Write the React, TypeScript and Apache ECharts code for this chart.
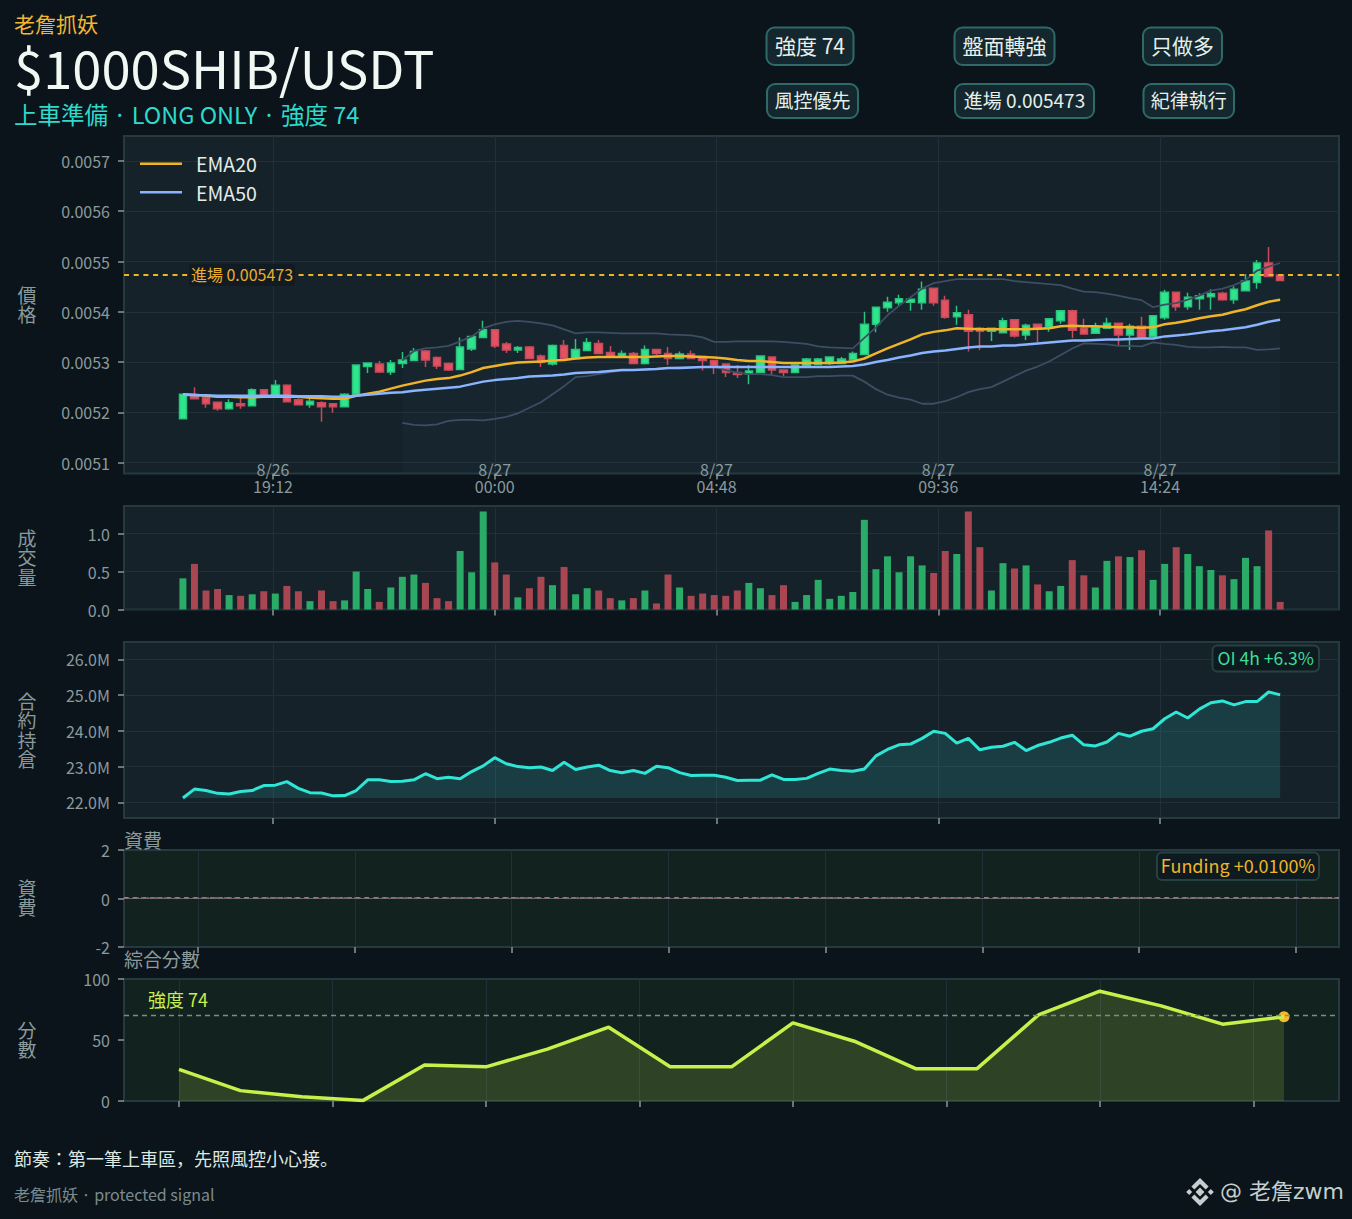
import React, { useEffect, useRef } from "react";
import * as echarts from "echarts";

const FONT = '"Noto Sans CJK JP", "Noto Sans", sans-serif';
const BG = "#0a141a";
const PANEL = "#15222a";
const PANEL2 = "#11221f";
const FRAME = "#25393f";
const GRID = "#222f38";
const TICK = "#8a9699";
const MUTED = "#8a9a9c";

const PRICE_UNIT = 1e-6;
const opens = [5187,5233,5229,5220,5207,5217,5213,5245,5233,5254, 5225,5215,5219,5217,5211,5236,5291,5296,5280,5297, 5303,5322,5309,5297,5285,5326,5349,5364,5336,5324, 5330,5312,5296,5333,5307,5323,5337,5319,5311,5317, 5297,5325,5317,5307,5316,5311,5303,5296,5279,5276, 5279,5310,5284,5279,5292,5295,5297,5297,5304,5315, 5375,5408,5418,5419,5418,5447,5423,5390,5394,5367, 5361,5358,5384,5354,5375,5369,5382,5402,5367,5357, 5367,5377,5354,5371,5351,5388,5439,5410,5426,5430, 5437,5424,5442,5458,5497,5473];
const closes = [5236,5227,5217,5207,5219,5213,5245,5233,5254,5221, 5215,5222,5211,5211,5236,5294,5298,5280,5298,5304, 5321,5304,5292,5284,5330,5351,5364,5332,5324,5329, 5307,5299,5333,5307,5325,5339,5317,5311,5317,5297, 5325,5317,5307,5316,5307,5303,5292,5279,5275,5282, 5312,5284,5279,5294,5306,5306,5310,5306,5317,5375, 5409,5419,5426,5425,5445,5418,5389,5398,5361,5361, 5367,5382,5352,5373,5365,5386,5402,5363,5356,5369, 5377,5354,5371,5349,5392,5439,5410,5429,5432,5436, 5424,5445,5461,5497,5470,5462];
const lows = [5187,5227,5209,5203,5205,5207,5213,5233,5233,5221, 5215,5209,5181,5199,5211,5236,5278,5278,5274,5288, 5303,5290,5286,5282,5285,5322,5349,5328,5318,5318, 5307,5290,5293,5307,5307,5323,5317,5311,5311,5297, 5295,5314,5294,5307,5307,5283,5276,5270,5268,5256, 5279,5274,5272,5279,5292,5295,5294,5297,5304,5315, 5359,5400,5412,5402,5404,5412,5386,5374,5321,5324, 5342,5358,5349,5344,5340,5360,5376,5348,5354,5357, 5367,5333,5324,5349,5351,5384,5402,5404,5404,5404, 5422,5416,5442,5446,5470,5462];
const highs = [5236,5250,5229,5220,5226,5228,5248,5246,5264,5256, 5228,5227,5222,5217,5238,5294,5298,5302,5304,5320, 5328,5324,5311,5299,5349,5351,5382,5364,5340,5332, 5332,5315,5335,5344,5346,5348,5344,5332,5323,5320, 5333,5325,5330,5321,5323,5311,5303,5296,5294,5294, 5312,5310,5284,5294,5308,5308,5310,5310,5321,5400, 5409,5430,5434,5425,5460,5447,5432,5412,5404,5370, 5367,5388,5384,5376,5375,5387,5403,5404,5386,5378, 5388,5377,5376,5390,5392,5444,5439,5438,5437,5445, 5440,5451,5475,5503,5529,5473];
const ema20 = [5236,5235,5233,5231,5231,5230,5230,5231,5231,5231, 5231,5229,5228,5227,5227,5233,5237,5241,5247,5253, 5258,5263,5266,5268,5273,5280,5288,5292,5296,5299, 5300,5301,5303,5304,5307,5309,5310,5310,5310,5310, 5310,5311,5312,5312,5311,5310,5309,5307,5304,5302, 5302,5300,5298,5298,5298,5298,5298,5299,5301,5307, 5317,5327,5336,5345,5355,5360,5363,5367,5366,5365, 5365,5365,5365,5365,5366,5367,5371,5372,5371,5371, 5370,5369,5369,5368,5369,5375,5378,5382,5387,5391, 5394,5400,5405,5413,5420,5424];
const ema50 = [5235,5234,5234,5233,5233,5233,5233,5233,5233,5233, 5232,5232,5232,5231,5231,5233,5235,5237,5239,5240, 5243,5245,5247,5249,5251,5256,5261,5264,5266,5268, 5271,5272,5273,5275,5278,5279,5280,5282,5284,5284, 5285,5286,5288,5288,5289,5290,5290,5290,5290,5290, 5290,5290,5290,5290,5290,5290,5290,5291,5292,5295, 5300,5304,5309,5313,5318,5321,5323,5326,5329,5331, 5331,5333,5333,5335,5337,5339,5341,5343,5343,5344, 5345,5345,5346,5347,5347,5351,5353,5355,5358,5361, 5363,5366,5369,5374,5380,5384];
const BB_START = 19;
const bbUpper = [5303,5322,5327,5329,5332,5341,5351,5367,5375,5380,5382, 5380,5377,5373,5365,5357,5359,5359,5358,5357,5357, 5357,5357,5355,5354,5353,5349,5340,5340,5341,5341, 5341,5341,5340,5338,5336,5331,5329,5328,5327,5348, 5369,5393,5412,5429,5446,5457,5461,5465,5465,5465, 5465,5465,5461,5459,5457,5455,5453,5446,5440,5439, 5436,5432,5427,5423,5409,5414,5417,5424,5432,5442, 5446,5453,5463,5482,5490,5497];
const bbLower = [5179,5175,5174,5176,5183,5185,5185,5184,5187,5191,5198, 5209,5220,5236,5252,5270,5272,5276,5280,5283,5284, 5285,5287,5288,5290,5290,5290,5291,5284,5279,5276, 5276,5274,5270,5270,5270,5272,5272,5273,5273,5261, 5246,5235,5229,5225,5217,5217,5222,5230,5240,5246, 5250,5261,5272,5283,5291,5301,5314,5327,5337,5336, 5335,5332,5332,5331,5339,5336,5334,5330,5329,5329, 5330,5329,5329,5324,5325,5327];
const volumes = [0.41,0.60,0.25,0.27,0.19,0.18,0.20,0.24,0.21,0.31, 0.24,0.11,0.25,0.11,0.12,0.50,0.27,0.10,0.29,0.43, 0.46,0.35,0.15,0.11,0.77,0.49,1.29,0.62,0.46,0.16, 0.28,0.43,0.32,0.56,0.20,0.28,0.25,0.15,0.12,0.15, 0.25,0.08,0.46,0.29,0.18,0.21,0.19,0.18,0.25,0.35, 0.28,0.19,0.32,0.10,0.19,0.39,0.14,0.18,0.23,1.18, 0.53,0.70,0.49,0.70,0.58,0.48,0.77,0.73,1.29,0.82, 0.25,0.61,0.54,0.58,0.33,0.24,0.31,0.65,0.45,0.29, 0.64,0.70,0.69,0.78,0.39,0.60,0.82,0.73,0.57,0.52, 0.45,0.40,0.68,0.57,1.04,0.10];
const openInterest = [22.12,22.37,22.33,22.25,22.23,22.30,22.33,22.47,22.48,22.58, 22.39,22.27,22.26,22.18,22.19,22.33,22.63,22.63,22.58,22.59, 22.63,22.80,22.66,22.70,22.66,22.86,23.02,23.25,23.08,23.00, 22.97,22.99,22.89,23.12,22.92,22.99,23.04,22.89,22.83,22.89, 22.81,23.01,22.97,22.83,22.75,22.76,22.76,22.70,22.61,22.62, 22.62,22.77,22.64,22.64,22.67,22.81,22.93,22.89,22.87,22.93, 23.30,23.48,23.61,23.63,23.79,23.99,23.93,23.66,23.79,23.47, 23.54,23.57,23.68,23.45,23.59,23.68,23.80,23.88,23.61,23.58, 23.69,23.93,23.85,23.99,24.06,24.34,24.53,24.36,24.61,24.79, 24.84,24.73,24.82,24.82,25.09,25.01];
const scores = [26,8.5,3.5,0.5,29.5,28,42.5,60.5,28,28,64,49,26.5,26.5,70.5,90,78,63,69];
const fundingRate = [0.03, 0.03];

const FIRST_CANDLE_MIN = 1035; // 8/26 17:15
const CANDLE_MIN = 15;
const timeTicks = [1152, 1440, 1728, 2016, 2304];
const timeTickLabels = ["8/26\n19:12", "8/27\n00:00", "8/27\n04:48", "8/27\n09:36", "8/27\n14:24"];
const priceTicks = [0.0051, 0.0052, 0.0053, 0.0054, 0.0055, 0.0056, 0.0057];
const volumeTicks = [0, 0.5, 1];
const oiTicks = [22, 23, 24, 25, 26];
const fundingTicks = [-2, 0, 2];
const scoreTicks = [0, 50, 100];
const fundingXTicks = [0, 1, 2, 3, 4, 5, 6, 7];
const scoreXTicks = [0, 2.5, 5, 7.5, 10, 12.5, 15, 17.5];
const ENTRY = 0.005473;

const chipsRow1 = [
  { t: "強度 74", x: 766.5, w: 87 },
  { t: "盤面轉強", x: 954.5, w: 100 },
  { t: "只做多", x: 1143, w: 79 },
];
const chipsRow2 = [
  { t: "風控優先", x: 767, w: 91 },
  { t: "進場 0.005473", x: 955, w: 139 },
  { t: "紀律執行", x: 1143.5, w: 90.5 },
];
const sideLabels = [
  { t: "價\n格", y: 305.5 },
  { t: "成\n交\n量", y: 558 },
  { t: "合\n約\n持\n倉", y: 731 },
  { t: "資\n費", y: 898.5 },
  { t: "分\n數", y: 1040.5 },
];

const txt = (text: string, x: number, y: number, fontSize: number, fill: string, extra: any = {}) => ({
  type: "text",
  x,
  y: y - 1.5,
  z: 100,
  silent: true,
  style: { text, fill, fontSize, fontFamily: FONT, verticalAlign: "middle", align: "left", ...extra },
});

const chip = (x: number, y: number, w: number, h: number, text: string, fontSize: number, fill: string, stroke: string, color: string, r = 8) => [
  { type: "rect", z: 99, silent: true, shape: { x, y, width: w, height: h, r }, style: { fill, stroke, lineWidth: 2 } },
  txt(text, x + w / 2, y + h / 2, fontSize, color, { align: "center" }),
];

export default function App() {
  const ref = useRef<HTMLDivElement>(null);
  useEffect(() => {
    document.body.style.margin = "0";
    document.body.style.background = BG;
    const chart = echarts.init(ref.current!, undefined, { renderer: "svg" });
    const xs = opens.map((_, i) => FIRST_CANDLE_MIN + CANDLE_MIN * i);
    const isUp = (i: number) => closes[i] >= opens[i];
    const u = (v: number) => v * PRICE_UNIT;

    const panels = [
      { left: 124, right: 13, top: 136, height: 337.5, backgroundColor: PANEL },
      { left: 124, right: 13, top: 506, height: 103.5, backgroundColor: PANEL },
      { left: 124, right: 13, top: 642, height: 176, backgroundColor: PANEL },
      { left: 124, right: 13, top: 850, height: 97, backgroundColor: PANEL2 },
      { left: 124, right: 13, top: 979, height: 122, backgroundColor: PANEL2 },
    ].map((g) => ({ ...g, show: true, borderColor: FRAME, borderWidth: 2 }));

    const baseX = (gridIndex: number, min: number, max: number, ticks: number[]) => ({
      type: "value",
      gridIndex,
      min,
      max,
      position: "bottom",
      axisLine: { show: false, onZero: false },
      axisTick: { show: true, customValues: ticks, length: 6, lineStyle: { color: TICK, width: 1.5 } },
      axisLabel: { show: false },
      splitLine: { show: true, lineStyle: { color: GRID, width: 1 } },
    });
    const baseY = (gridIndex: number, min: number, max: number, ticks: number[], fmt: (v: number) => string, split = true) => ({
      type: "value",
      gridIndex,
      min,
      max,
      position: "left",
      axisLine: { show: false, onZero: false },
      axisTick: { show: true, customValues: ticks, length: 6, lineStyle: { color: TICK, width: 1.5 } },
      axisLabel: { show: true, customValues: ticks, formatter: fmt, color: MUTED, fontSize: 16, fontFamily: FONT, margin: 14 },
      splitLine: { show: split, lineStyle: { color: GRID, width: 1 } },
    });

    const TMIN = 958.5;
    const TMAX = 2536.4;
    const priceX: any = baseX(0, TMIN, TMAX, timeTicks);
    priceX.axisLabel = {
      show: true,
      customValues: timeTicks,
      formatter: (v: number) => timeTickLabels[timeTicks.indexOf(v)] ?? "",
      color: MUTED,
      fontSize: 16,
      lineHeight: 17,
      fontFamily: FONT,
      margin: -13,
    };

    const option: any = {
      animation: false,
      backgroundColor: BG,
      textStyle: { fontFamily: FONT },
      grid: panels,
      xAxis: [
        priceX,
        baseX(1, TMIN, TMAX, timeTicks),
        baseX(2, TMIN, TMAX, timeTicks),
        baseX(3, -0.471, 7.274, fundingXTicks),
        baseX(4, -0.896, 18.896, scoreXTicks),
      ],
      yAxis: [
        baseY(0, 0.0050782, 0.0057497, priceTicks, (v) => v.toFixed(4)),
        baseY(1, 0, 1.362, volumeTicks, (v) => v.toFixed(1)),
        baseY(2, 21.56, 26.49, oiTicks, (v) => v.toFixed(1) + "M"),
        baseY(3, -2, 2, fundingTicks, (v) => String(Math.round(v)), false),
        baseY(4, 0, 100, scoreTicks, (v) => String(Math.round(v)), false),
      ],
      legend: {
        data: ["EMA20", "EMA50"],
        orient: "vertical",
        left: 135,
        top: 149,
        icon: "rect",
        itemWidth: 42,
        itemHeight: 2.5,
        itemGap: 9,
        selectedMode: false,
        textStyle: { color: "#e4ece8", fontSize: 19.5, fontFamily: FONT, padding: [0, 0, 3, 9] },
      },
      series: [
        {
          type: "candlestick",
          name: "K",
          xAxisIndex: 0,
          yAxisIndex: 0,
          barWidth: 8,
          data: xs.map((x, i) => [x, u(opens[i]), u(closes[i]), u(lows[i]), u(highs[i])]),
          itemStyle: { color: "#2ee68c", color0: "#e5505f", borderColor: "#29c47c", borderColor0: "#c64a5a", borderWidth: 1.5 },
        },
        {
          type: "line",
          name: "BB上",
          xAxisIndex: 0,
          yAxisIndex: 0,
          symbol: "none",
          lineStyle: { color: "#3d4d63", width: 1.8 },
          areaStyle: { color: "#8fa6d0", opacity: 0.025 },
          data: bbUpper.map((v, i) => [xs[i + BB_START], u(v)]),
        },
        {
          type: "line",
          name: "BB下",
          xAxisIndex: 0,
          yAxisIndex: 0,
          symbol: "none",
          lineStyle: { color: "#3d4d63", width: 1.8 },
          data: bbLower.map((v, i) => [xs[i + BB_START], u(v)]),
        },
        {
          type: "line",
          name: "EMA20",
          xAxisIndex: 0,
          yAxisIndex: 0,
          symbol: "none",
          itemStyle: { color: "#f0b429" },
          lineStyle: { color: "#f0b429", width: 2.5 },
          data: ema20.map((v, i) => [xs[i], u(v)]),
        },
        {
          type: "line",
          name: "EMA50",
          xAxisIndex: 0,
          yAxisIndex: 0,
          symbol: "none",
          itemStyle: { color: "#8ab4ff" },
          lineStyle: { color: "#8ab4ff", width: 2.5 },
          data: ema50.map((v, i) => [xs[i], u(v)]),
        },
        {
          type: "line",
          name: "進場",
          xAxisIndex: 0,
          yAxisIndex: 0,
          symbol: "none",
          lineStyle: { color: "#f0b429", width: 2, type: [5, 4.7] },
          data: [[TMIN, ENTRY], [TMAX, ENTRY]],
        },
        {
          type: "bar",
          name: "成交量",
          xAxisIndex: 1,
          yAxisIndex: 1,
          barWidth: 7,
          data: volumes.map((v, i) => ({ value: [xs[i], v], itemStyle: { color: isUp(i) ? "#2aab68" : "#a84652" } })),
        },
        {
          type: "line",
          name: "OI",
          xAxisIndex: 2,
          yAxisIndex: 2,
          symbol: "none",
          lineStyle: { color: "#2fe6d6", width: 3 },
          areaStyle: { color: "#2fe6d6", opacity: 0.14, origin: 22.12 },
          data: openInterest.map((v, i) => [xs[i], v]),
        },
        {
          type: "line",
          name: "零軸",
          xAxisIndex: 3,
          yAxisIndex: 3,
          symbol: "none",
          lineStyle: { color: "#5f6d6e", width: 1.2 },
          data: [[-0.471, 0], [7.274, 0]],
        },
        {
          type: "line",
          name: "資費A",
          xAxisIndex: 3,
          yAxisIndex: 3,
          symbol: "none",
          lineStyle: { color: "#b85a6b", width: 1.2, type: [5, 5] },
          data: [[-0.471, fundingRate[0]], [7.274, fundingRate[1]]],
        },
        {
          type: "line",
          name: "資費B",
          xAxisIndex: 3,
          yAxisIndex: 3,
          symbol: "none",
          lineStyle: { color: "#d07a8c", width: 1.2, type: [4.3, 4.3] },
          data: [[-0.471, fundingRate[0]], [7.274, fundingRate[1]]],
        },
        {
          type: "line",
          name: "分數",
          xAxisIndex: 4,
          yAxisIndex: 4,
          symbol: "none",
          lineStyle: { color: "#c8f04a", width: 3.5 },
          areaStyle: { color: "#c8f04a", opacity: 0.16 },
          data: scores.map((v, i) => [i, v]),
        },
        {
          type: "line",
          name: "門檻",
          xAxisIndex: 4,
          yAxisIndex: 4,
          symbol: "none",
          lineStyle: { color: "#7f8c82", width: 1.5, type: [5, 4] },
          data: [[-0.896, 70], [18.896, 70]],
        },
        {
          type: "scatter",
          name: "最新",
          xAxisIndex: 4,
          yAxisIndex: 4,
          symbolSize: 11,
          itemStyle: { color: "#f5b82e", opacity: 1 },
          data: [[scores.length - 1, scores[scores.length - 1]]],
        },
      ],
      graphic: {
        elements: [
          txt("老詹抓妖", 14, 24, 21, "#f2b632"),
          txt("$1000SHIB/USDT", 14, 67, 52.5, "#f1f7f2"),
          txt("上車準備 · LONG ONLY · 強度 74", 14, 115, 23.5, "#2fd9cc"),
          ...chipsRow1.flatMap((c) => chip(c.x, 27.5, c.w, 37.5, c.t, 21, "#14262e", "#2e6a68", "#e6efe9")),
          ...chipsRow2.flatMap((c) => chip(c.x, 84, c.w, 34, c.t, 19, "#14262e", "#2e6a68", "#e6efe9")),
          ...sideLabels.map((s) => txt(s.t, 27, s.y, 19, MUTED, { align: "center", lineHeight: 19.5 })),
          txt("資費", 124, 841, 19, MUTED),
          txt("綜合分數", 124, 960, 19, MUTED),
          txt("強度 74", 148, 1000, 18, "#c8f04a"),
          ...chip(190, 265, 104, 20, "進場 0.005473", 16, "#121b21", "#121b21", "#e8ae2e", 3),
          ...chip(1212.5, 645.5, 106.5, 26, "OI 4h +6.3%", 17.5, "#0d1a20", "#28403f", "#3ddc97", 5),
          ...chip(1157, 852.5, 162, 27.5, "Funding +0.0100%", 18, "#0d1a20", "#28403f", "#f0b429", 5),
          txt("節奏：第一筆上車區，先照風控小心接。", 14, 1159, 18, "#dfe8e3"),
          txt("老詹抓妖 · protected signal", 14, 1195, 16, "#7c8b8e"),
          {
            type: "group",
            x: 1200,
            y: 1192,
            z: 100,
            silent: true,
            children: [
              [[0, -4.4], [4.4, 0], [0, 4.4], [-4.4, 0]],
              [[-10.8, -3], [-7.8, 0], [-10.8, 3], [-13.8, 0]],
              [[10.8, -3], [13.8, 0], [10.8, 3], [7.8, 0]],
              [[0, -14], [8.6, -5.4], [5.6, -2.4], [0, -8], [-5.6, -2.4], [-8.6, -5.4]],
              [[0, 14], [-8.6, 5.4], [-5.6, 2.4], [0, 8], [5.6, 2.4], [8.6, 5.4]],
            ].map((points) => ({ type: "polygon", shape: { points }, style: { fill: "#c6cfcd" } })),
          },
          txt("@ 老詹zwm", 1220, 1193, 22, "#c6cfcd", { fontFamily: '"DejaVu Sans", "Noto Sans CJK JP"' }),
        ],
      },
    };
    chart.setOption(option);
    return () => chart.dispose();
  }, []);
  return <div ref={ref} style={{ position: "absolute", left: 0, top: 0, width: 1352, height: 1219 }} />;
}
